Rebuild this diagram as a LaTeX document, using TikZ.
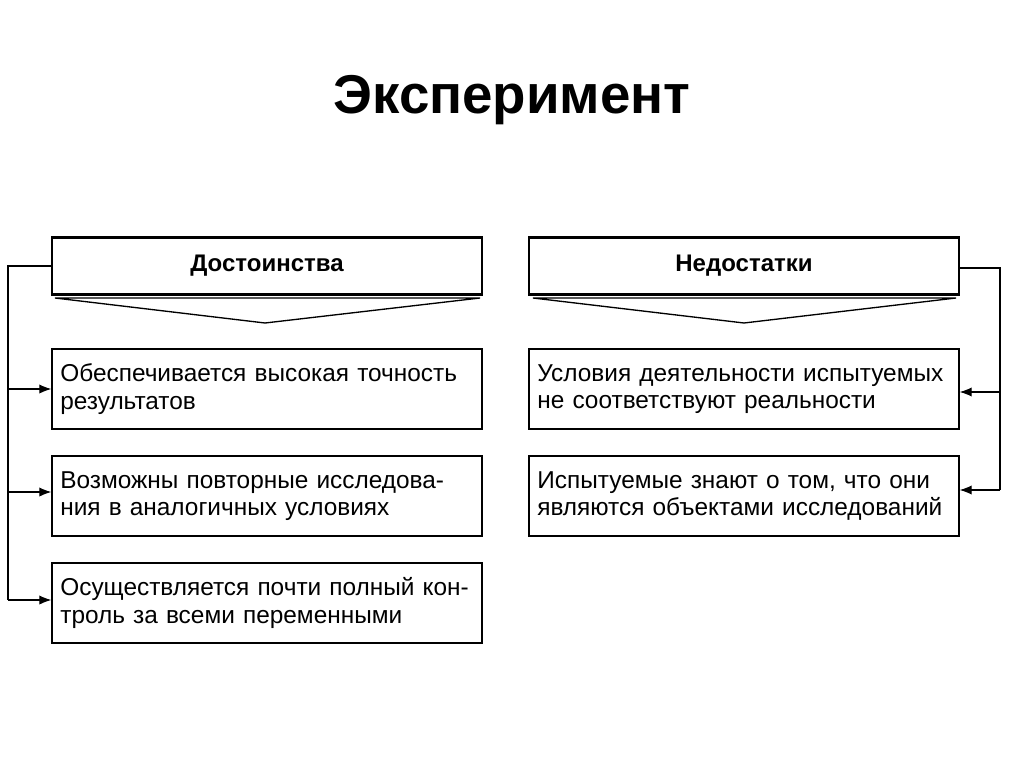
\documentclass[tikz,border=0pt]{standalone}
\usepackage{fontspec}
\usetikzlibrary{arrows.meta}
\setmainfont{Liberation Sans}
\begin{document}
\begin{tikzpicture}[x=0.75pt,y=-0.75pt,
  hdr/.style={draw,line width=1.6pt,minimum width=322.5pt,minimum height=42.75pt,font=\bfseries\fontsize{18}{20}\selectfont},
  item/.style={draw,line width=1pt,minimum width=322.5pt,minimum height=60pt,inner xsep=6pt,text width=310pt,align=left,font=\fontsize{18.3}{20.5}\selectfont},
  arr/.style={line width=0.9pt,arrows={-{Latex[length=9pt,width=7pt]}}}]
\useasboundingbox (0,0) rectangle (1024,767);
\node[font=\bfseries\fontsize{41}{46}\selectfont] (title) at (512,100) {Эксперимент};
\node[hdr] (h1) at (267,266) {Достоинства};
\node[hdr] (h2) at (744,266) {Недостатки};
\draw[line width=1pt] (55,298) -- (480,298) -- (265,323) -- cycle;
\draw[line width=1pt] (533,298) -- (956,298) -- (744,323) -- cycle;
\node[item] (a1) at (267,389) {Обеспечивается высокая точность\\результатов};
\node[item] (a2) at (267,496) {Возможны повторные исследова-\\ния в аналогичных условиях};
\node[item] (a3) at (267,603) {Осуществляется почти полный кон-\\троль за всеми переменными};
\node[item] (b1) at (744,389) {Условия деятельности испытуемых\\не соответствуют реальности};
\node[item] (b2) at (744,496) {Испытуемые знают о том, что они\\являются объектами исследований};
\coordinate (lt) at (8,266);
\coordinate (rt) at (1000,268);
\draw[line width=0.9pt] (h1.west) -- (lt) -- (8,600);
\draw[line width=0.9pt] (h2.east |- rt) -- (rt) -- (1000,490);
\draw[arr] (8,389) -- (a1.west);
\draw[arr] (8,492) -- (a2.west |- 0,492);
\draw[arr] (8,600) -- (a3.west |- 0,600);
\draw[arr] (1000,392) -- (b1.east |- 0,392);
\draw[arr] (1000,490) -- (b2.east |- 0,490);
\end{tikzpicture}
\end{document}
